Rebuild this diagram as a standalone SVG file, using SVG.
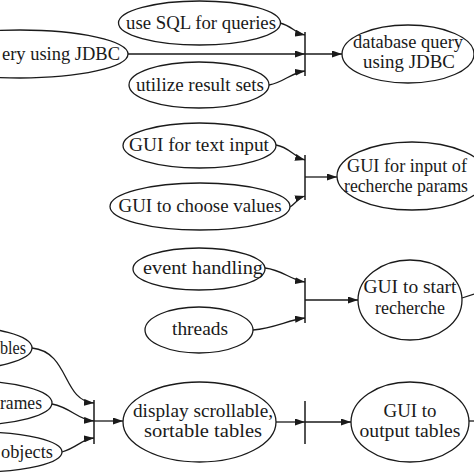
<svg xmlns="http://www.w3.org/2000/svg" width="474" height="474" viewBox="0 0 474 474">
<style>
ellipse{fill:#fff;stroke:#1a1a1a;stroke-width:1.3}
text{font-family:"Liberation Serif","DejaVu Serif",serif;font-size:18px;fill:#1a1a1a;text-anchor:middle}
.c{fill:none;stroke:#1a1a1a;stroke-width:1.3;marker-end:url(#ah)}
.l{fill:none;stroke:#1a1a1a;stroke-width:1.3}
.bar{stroke:#1a1a1a;stroke-width:1.5}
</style>
<defs>
<marker id="ah" viewBox="0 0 10 7" refX="10" refY="3.5" markerWidth="10" markerHeight="7" markerUnits="userSpaceOnUse" orient="auto">
<path d="M0,0 L10,3.5 L0,7 z" fill="#1a1a1a"/>
</marker>
</defs>
<rect width="474" height="474" fill="#fff"/>
<g id="connectors">
<path class="c" d="M280,23 C292,26 295,33 305,35"/>
<path class="c" d="M128,54 L305,54"/>
<path class="c" d="M269,85 C285,82 290,73 305,71"/>
<path class="c" d="M305,54 L342,54"/>
<path class="c" d="M276,145 C289,147 294,157 305,160"/>
<path class="c" d="M290,207 C296,203 298,198 305,196"/>
<path class="c" d="M305,177 L337,177"/>
<path class="c" d="M265,268 C283,270 290,280 305,282"/>
<path class="c" d="M253,330 C275,328 288,320 305,318"/>
<path class="c" d="M305,300 L358,300"/>
<path class="l" d="M462,298 L474,294"/>
<path class="c" d="M32,348 C70,352 62,401 94,403"/>
<path class="c" d="M52,404 C72,408 78,420 94,421"/>
<path class="c" d="M62,452 C78,447 82,439 94,438"/>
<path class="c" d="M94,421 L123,421"/>
<path class="c" d="M276,422 L305,422"/>
<path class="c" d="M305,422 L351,422"/>
<path class="l" d="M469,421 L474,421"/>
<line class="bar" x1="305" y1="32" x2="305" y2="76"/>
<line class="bar" x1="305" y1="155" x2="305" y2="200"/>
<line class="bar" x1="305" y1="278" x2="305" y2="323"/>
<line class="bar" x1="94" y1="400" x2="94" y2="444"/>
<line class="bar" x1="305" y1="401" x2="305" y2="444"/>
</g>
<g id="sql"><ellipse cx="199.5" cy="23" rx="81" ry="22"/><text x="201" y="29" textLength="150" lengthAdjust="spacingAndGlyphs">use SQL for queries</text></g>
<g id="jdbcq"><ellipse cx="20" cy="54" rx="108" ry="24"/><text x="120" y="60" style="text-anchor:end" textLength="118" lengthAdjust="spacingAndGlyphs">ery using JDBC</text></g>
<g id="results"><ellipse cx="199" cy="85" rx="70" ry="23"/><text x="200" y="91" textLength="128" lengthAdjust="spacingAndGlyphs">utilize result sets</text></g>
<g id="dbquery"><ellipse cx="408" cy="54" rx="66" ry="29"/><text x="408" y="48" textLength="110" lengthAdjust="spacingAndGlyphs">database query</text><text x="409" y="68" textLength="92" lengthAdjust="spacingAndGlyphs">using JDBC</text></g>
<g id="textinput"><ellipse cx="199.5" cy="145.5" rx="76.5" ry="22.5"/><text x="199" y="151" textLength="140" lengthAdjust="spacingAndGlyphs">GUI for text input</text></g>
<g id="choose"><ellipse cx="200" cy="206.5" rx="90" ry="23.5"/><text x="200" y="212" textLength="163" lengthAdjust="spacingAndGlyphs">GUI to choose values</text></g>
<g id="params"><ellipse cx="412" cy="176" rx="75" ry="34"/><text x="407" y="172" textLength="120" lengthAdjust="spacingAndGlyphs">GUI for input of</text><text x="406" y="192" textLength="124" lengthAdjust="spacingAndGlyphs">recherche params</text></g>
<g id="events"><ellipse cx="199" cy="269" rx="66" ry="21"/><text x="203" y="274" textLength="120" lengthAdjust="spacingAndGlyphs">event handling</text></g>
<g id="threads"><ellipse cx="199" cy="330" rx="54" ry="23"/><text x="200" y="335" textLength="56" lengthAdjust="spacingAndGlyphs">threads</text></g>
<g id="start"><ellipse cx="410" cy="300" rx="52" ry="40"/><text x="410" y="293" textLength="93" lengthAdjust="spacingAndGlyphs">GUI to start</text><text x="410" y="314" textLength="70" lengthAdjust="spacingAndGlyphs">recherche</text></g>
<g id="tables"><ellipse cx="-50" cy="348" rx="82" ry="22"/><text x="26" y="354" style="text-anchor:end" textLength="26" lengthAdjust="spacingAndGlyphs">bles</text></g>
<g id="frames"><ellipse cx="-30" cy="403" rx="82" ry="22"/><text x="42" y="409" style="text-anchor:end" textLength="42" lengthAdjust="spacingAndGlyphs">rames</text></g>
<g id="objects"><ellipse cx="-20" cy="452" rx="82" ry="20"/><text x="53" y="458" style="text-anchor:end" textLength="52" lengthAdjust="spacingAndGlyphs">objects</text></g>
<g id="display"><ellipse cx="199.5" cy="422" rx="76.5" ry="40"/><text x="203" y="417" textLength="140" lengthAdjust="spacingAndGlyphs">display scrollable,</text><text x="203" y="437" textLength="118" lengthAdjust="spacingAndGlyphs">sortable tables</text></g>
<g id="output"><ellipse cx="410" cy="422" rx="59" ry="40"/><text x="410" y="417" textLength="53" lengthAdjust="spacingAndGlyphs">GUI to</text><text x="410" y="437" textLength="101" lengthAdjust="spacingAndGlyphs">output tables</text></g>
</svg>
